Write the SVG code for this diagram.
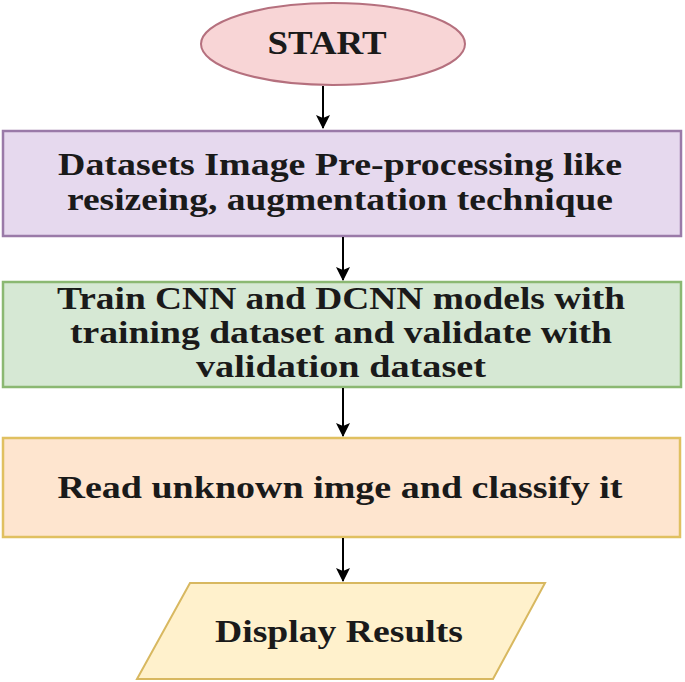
<svg xmlns="http://www.w3.org/2000/svg" width="685" height="682" viewBox="0 0 685 682">
<defs>
<marker id="arr" viewBox="0 0 14 14" refX="13" refY="7" markerWidth="14" markerHeight="14" markerUnits="userSpaceOnUse" orient="auto">
<path d="M0,0 L14,7 L0,14 L3,7 Z" fill="#000"/>
</marker>
</defs>
<style>
.t{font-family:"Liberation Serif","Times New Roman",serif;font-weight:bold;font-size:31px;fill:#1a1a1a;text-anchor:middle}
.c{stroke:#000;stroke-width:2;fill:none;marker-end:url(#arr)}
</style>
<rect width="685" height="682" fill="#fff"/>
<g id="start">
<ellipse cx="333" cy="44" rx="132" ry="41" fill="#f8d5d6" stroke="#b5707e" stroke-width="2"/>
<text class="t" x="327" y="54" style="font-size:34px" textLength="119" lengthAdjust="spacingAndGlyphs">START</text>
</g>
<g id="preprocess">
<rect x="3" y="131" width="678" height="105" fill="#e6d9ee" stroke="#9a7aa8" stroke-width="2.5"/>
<text class="t" x="340" y="175" textLength="564" lengthAdjust="spacingAndGlyphs">Datasets Image Pre-processing like</text>
<text class="t" x="340" y="210" textLength="546" lengthAdjust="spacingAndGlyphs">resizeing, augmentation technique</text>
</g>
<g id="train">
<rect x="3" y="282" width="678" height="105" fill="#d6e8d4" stroke="#8bb872" stroke-width="2.5"/>
<text class="t" x="341" y="309" textLength="568" lengthAdjust="spacingAndGlyphs">Train CNN and DCNN models with</text>
<text class="t" x="341" y="343" textLength="542" lengthAdjust="spacingAndGlyphs">training dataset and validate with</text>
<text class="t" x="341" y="377" textLength="290" lengthAdjust="spacingAndGlyphs">validation dataset</text>
</g>
<g id="classify">
<rect x="3" y="438" width="677" height="99" fill="#fee5cf" stroke="#e0c060" stroke-width="2.5"/>
<text class="t" x="340" y="498" textLength="565" lengthAdjust="spacingAndGlyphs">Read unknown imge and classify it</text>
</g>
<g id="display">
<polygon points="190,583 545,583 493,679 137,679" fill="#fff1cc" stroke="#d8b860" stroke-width="2"/>
<text class="t" x="339" y="642" textLength="248" lengthAdjust="spacingAndGlyphs">Display Results</text>
</g>
<g id="connectors">
<line class="c" x1="323" y1="86" x2="323" y2="128"/>
<line class="c" x1="343" y1="237" x2="343" y2="280"/>
<line class="c" x1="343" y1="388" x2="343" y2="436"/>
<line class="c" x1="343" y1="538" x2="343" y2="581"/>
</g>
</svg>
